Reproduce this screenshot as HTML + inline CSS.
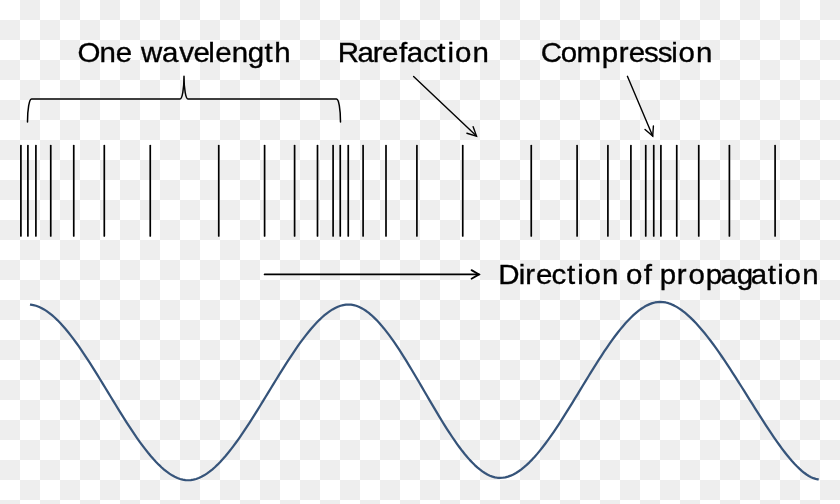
<!DOCTYPE html>
<html lang="en">
<head>
<meta charset="utf-8">
<title>Longitudinal wave: compression and rarefaction</title>
<style>
html,body{margin:0;padding:0;}
body{width:840px;height:504px;overflow:hidden;background-color:#fff;
background-image:conic-gradient(#eee 25%,#fff 0 50%,#eee 0 75%,#fff 0);
background-size:40px 40px;background-position:0 0;}
svg{display:block;position:absolute;left:0;top:0;filter:blur(0.35px);}
text{font-family:"Liberation Sans",sans-serif;fill:#000;stroke:#000;stroke-width:0.35px;}
</style>
</head>
<body>
<svg width="840" height="504" viewBox="0 0 840 504">
<g stroke="#000" stroke-width="1.7" stroke-linecap="round"><line x1="20.9" y1="145.5" x2="20.9" y2="236"/><line x1="27.9" y1="145.5" x2="27.9" y2="236"/><line x1="35.9" y1="145.5" x2="35.9" y2="236"/><line x1="50.75" y1="145.5" x2="50.75" y2="236"/><line x1="73.75" y1="145.5" x2="73.75" y2="236"/><line x1="104.3" y1="145.5" x2="104.3" y2="236"/><line x1="150.25" y1="145.5" x2="150.25" y2="236"/><line x1="218.75" y1="145.5" x2="218.75" y2="236"/><line x1="264.6" y1="145.5" x2="264.6" y2="236"/><line x1="294.6" y1="145.5" x2="294.6" y2="236"/><line x1="317.5" y1="145.5" x2="317.5" y2="236"/><line x1="333.1" y1="145.5" x2="333.1" y2="236"/><line x1="340.25" y1="145.5" x2="340.25" y2="236"/><line x1="348.25" y1="145.5" x2="348.25" y2="236"/><line x1="363.1" y1="145.5" x2="363.1" y2="236"/><line x1="386" y1="145.5" x2="386" y2="236"/><line x1="416.9" y1="145.5" x2="416.9" y2="236"/><line x1="462.75" y1="145.5" x2="462.75" y2="236"/><line x1="531.25" y1="145.5" x2="531.25" y2="236"/><line x1="577.1" y1="145.5" x2="577.1" y2="236"/><line x1="607.9" y1="145.5" x2="607.9" y2="236"/><line x1="630.9" y1="145.5" x2="630.9" y2="236"/><line x1="645.75" y1="145.5" x2="645.75" y2="236"/><line x1="653.75" y1="145.5" x2="653.75" y2="236"/><line x1="660.9" y1="145.5" x2="660.9" y2="236"/><line x1="676.75" y1="145.5" x2="676.75" y2="236"/><line x1="698.75" y1="145.5" x2="698.75" y2="236"/><line x1="729.4" y1="145.5" x2="729.4" y2="236"/><line x1="775.1" y1="145.5" x2="775.1" y2="236"/></g>
<path d="M27.5,122 A4,23 0 0 1 31.5,99 L180,99 A4,22.75 0 0 0 184,76.25 A4,22.75 0 0 0 188,99 L336.5,99 A4,23 0 0 1 340.5,122" fill="none" stroke="#000" stroke-width="1.5" stroke-linecap="round" stroke-linejoin="round"/>
<g fill="none" stroke="#000" stroke-width="1.4" stroke-linecap="round" stroke-linejoin="miter"><path d="M413.60,76.50 L476.50,136.10" /><path d="M473.15,126.68 L476.50,136.10 L466.91,133.27" /></g>
<g fill="none" stroke="#000" stroke-width="1.4" stroke-linecap="round" stroke-linejoin="miter"><path d="M627.40,76.30 L652.70,136.00" /><path d="M653.40,126.02 L652.70,136.00 L645.04,129.57" /></g>
<g fill="none" stroke="#000" stroke-width="1.8" stroke-linecap="round" stroke-linejoin="miter"><path d="M264.60,274.40 L479.00,274.40" /><path d="M471.55,270.10 L479.00,274.40 L471.55,278.70" /></g>
<path d="M30.00,304.53 L30.67,304.64 L33.34,305.07 L36.00,305.77 L38.67,306.74 L41.34,307.96 L44.01,309.42 L46.68,311.12 L49.35,313.04 L52.01,315.18 L54.68,317.52 L57.35,320.06 L60.02,322.78 L62.69,325.68 L65.36,328.74 L68.03,331.96 L70.69,335.33 L73.36,338.83 L76.03,342.46 L78.70,346.21 L81.37,350.06 L84.03,354.02 L86.70,358.06 L89.37,362.18 L92.04,366.36 L94.71,370.61 L97.38,374.90 L100.05,379.24 L102.71,383.60 L105.38,387.98 L108.05,392.38 L110.72,396.77 L113.39,401.15 L116.06,405.51 L118.72,409.85 L121.39,414.14 L124.06,418.39 L126.73,422.57 L129.40,426.69 L132.06,430.73 L134.73,434.69 L137.40,438.54 L140.07,442.29 L142.74,445.92 L145.41,449.42 L148.07,452.79 L150.74,456.01 L153.41,459.07 L156.08,461.97 L158.75,464.69 L161.42,467.23 L164.08,469.57 L166.75,471.71 L169.42,473.63 L172.09,475.33 L174.76,476.79 L177.43,478.01 L180.09,478.98 L182.76,479.68 L185.43,480.11 L188.10,480.25 L190.77,480.11 L193.45,479.68 L196.12,478.98 L198.80,478.01 L201.47,476.79 L204.15,475.33 L206.82,473.63 L209.50,471.71 L212.17,469.57 L214.85,467.23 L217.52,464.69 L220.20,461.97 L222.87,459.07 L225.55,456.01 L228.22,452.79 L230.90,449.42 L233.58,445.92 L236.25,442.29 L238.92,438.54 L241.60,434.69 L244.28,430.73 L246.95,426.69 L249.63,422.57 L252.30,418.39 L254.97,414.14 L257.65,409.85 L260.33,405.51 L263.00,401.15 L265.67,396.77 L268.35,392.38 L271.02,387.98 L273.70,383.60 L276.38,379.24 L279.05,374.90 L281.73,370.61 L284.40,366.36 L287.08,362.18 L289.75,358.06 L292.43,354.02 L295.10,350.06 L297.77,346.21 L300.45,342.46 L303.12,338.83 L305.80,335.33 L308.48,331.96 L311.15,328.74 L313.83,325.68 L316.50,322.78 L319.18,320.06 L321.85,317.52 L324.52,315.18 L327.20,313.04 L329.88,311.12 L332.55,309.42 L335.23,307.96 L337.90,306.74 L340.58,305.77 L343.25,305.07 L345.93,304.64 L348.60,304.50 L351.12,304.64 L353.65,305.07 L356.17,305.76 L358.69,306.71 L361.22,307.91 L363.74,309.36 L366.26,311.03 L368.79,312.93 L371.31,315.03 L373.83,317.34 L376.36,319.85 L378.88,322.53 L381.40,325.39 L383.93,328.42 L386.45,331.59 L388.97,334.92 L391.50,338.37 L394.02,341.95 L396.54,345.65 L399.07,349.46 L401.59,353.36 L404.11,357.34 L406.64,361.41 L409.16,365.54 L411.68,369.73 L414.21,373.96 L416.73,378.24 L419.25,382.54 L421.78,386.87 L424.30,391.20 L426.82,395.53 L429.35,399.86 L431.87,404.16 L434.39,408.44 L436.92,412.67 L439.44,416.86 L441.96,420.99 L444.49,425.06 L447.01,429.04 L449.53,432.94 L452.06,436.75 L454.58,440.45 L457.10,444.03 L459.63,447.48 L462.15,450.81 L464.67,453.98 L467.20,457.01 L469.72,459.87 L472.24,462.55 L474.77,465.06 L477.29,467.37 L479.81,469.47 L482.34,471.37 L484.86,473.04 L487.38,474.49 L489.91,475.69 L492.43,476.64 L494.95,477.33 L497.48,477.76 L500.00,477.90 L502.67,477.75 L505.35,477.33 L508.02,476.62 L510.69,475.66 L513.37,474.44 L516.04,472.97 L518.71,471.27 L521.39,469.35 L524.06,467.21 L526.73,464.86 L529.41,462.32 L532.08,459.60 L534.75,456.69 L537.43,453.63 L540.10,450.40 L542.77,447.03 L545.45,443.52 L548.12,439.88 L550.79,436.13 L553.47,432.27 L556.14,428.31 L558.81,424.27 L561.49,420.14 L564.16,415.95 L566.83,411.70 L569.51,407.40 L572.18,403.06 L574.85,398.69 L577.53,394.30 L580.20,389.90 L582.87,385.50 L585.55,381.11 L588.22,376.74 L590.89,372.40 L593.57,368.10 L596.24,363.85 L598.91,359.66 L601.59,355.53 L604.26,351.49 L606.93,347.53 L609.61,343.67 L612.28,339.92 L614.95,336.28 L617.63,332.77 L620.30,329.40 L622.97,326.17 L625.65,323.11 L628.32,320.20 L630.99,317.48 L633.67,314.94 L636.34,312.59 L639.01,310.45 L641.69,308.53 L644.36,306.83 L647.03,305.36 L649.71,304.14 L652.38,303.18 L655.05,302.47 L657.73,302.05 L660.40,301.90 L663.07,302.05 L665.75,302.48 L668.45,303.19 L671.17,304.16 L673.89,305.39 L676.63,306.87 L679.38,308.59 L682.15,310.53 L684.92,312.69 L687.70,315.05 L690.49,317.61 L693.29,320.37 L696.10,323.29 L698.91,326.39 L701.72,329.64 L704.54,333.04 L707.36,336.58 L710.19,340.25 L713.02,344.04 L715.85,347.93 L718.67,351.92 L721.50,356.01 L724.33,360.17 L727.15,364.40 L729.97,368.69 L732.79,373.03 L735.60,377.40 L738.40,381.81 L741.20,386.24 L743.99,390.67 L746.77,395.11 L749.55,399.54 L752.31,403.95 L755.06,408.32 L757.80,412.66 L760.53,416.95 L763.24,421.18 L765.94,425.34 L768.62,429.43 L771.29,433.42 L773.94,437.31 L776.58,441.10 L779.19,444.77 L781.79,448.31 L784.36,451.71 L786.92,454.96 L789.45,458.06 L791.96,460.98 L794.45,463.74 L796.91,466.30 L799.35,468.66 L801.76,470.82 L804.14,472.76 L806.50,474.48 L808.82,475.96 L811.12,477.19 L813.39,478.16 L815.62,478.87 L817.83,479.30 L818.75,479.42" fill="none" stroke="#36547a" stroke-width="2.25" stroke-linecap="butt" stroke-linejoin="round"/>
<text transform="scale(1.035 1)" x="74.79 96.16 111.91 127.44 136.31 156.62 173.25 187.06 201.22 208.04 224.03 239.50 255.59 264.96" y="62.0" font-size="28.5">One wavelength</text>
<text transform="scale(1.035 1)" x="326.45 345.37 360.20 369.16 385.50 393.12 408.63 422.56 432.44 439.66 456.55" y="62.0" font-size="28.5">Rarefaction</text>
<text transform="scale(1.035 1)" x="522.51 541.68 557.06 581.37 597.91 607.56 622.22 635.51 648.53 655.60 672.49" y="62.0" font-size="28.5">Compression</text>
<text transform="scale(1.035 1)" x="481.33 501.19 507.58 517.95 532.98 547.86 557.71 564.78 581.76 596.38 604.88 621.91 630.82 637.41 653.95 665.26 681.91 696.22 711.74 725.41 741.70 750.95 758.02 775.15" y="284.35" font-size="28.5">Direction of propagation</text>
</svg>
</body>
</html>
